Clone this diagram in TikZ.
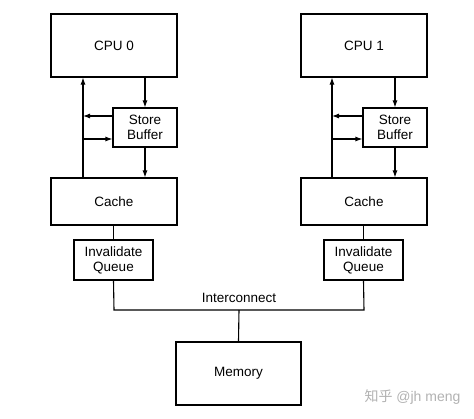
\documentclass[tikz,border=0pt]{standalone}
\usepackage{fontspec}
\setmainfont{Liberation Sans}
\newfontfamily\cjk{Noto Sans CJK SC}
\usetikzlibrary{arrows.meta}
\begin{document}
\begin{tikzpicture}[x=1pt,y=-1pt,
  box/.style={draw, line width=1.1pt, inner sep=0pt, font=\fontsize{13.5}{15}\selectfont, align=center},
  conn/.style={line width=1.1pt},
  arr/.style={line width=1.1pt, -{Latex[length=7pt,width=5pt]}}]
\useasboundingbox (0,0) rectangle (474,418);
\fill[white] (0,0) rectangle (474,418);
% left
\node[box, minimum width=126pt, minimum height=63pt] (cpu0) at (114,45.5) {CPU 0};
\node[box, minimum width=64pt, minimum height=39pt] (sb0) at (145,127.5) {Store\\Buffer};
\node[box, minimum width=126pt, minimum height=47pt] (c0) at (114,201.5) {Cache};
\node[box, minimum width=79pt, minimum height=40pt] (iq0) at (113.5,260) {Invalidate\\Queue};
% right
\node[box, minimum width=126pt, minimum height=63pt] (cpu1) at (364,45.5) {CPU 1};
\node[box, minimum width=64pt, minimum height=39pt] (sb1) at (395,127.5) {Store\\Buffer};
\node[box, minimum width=126pt, minimum height=47pt] (c1) at (364,201.5) {Cache};
\node[box, minimum width=79pt, minimum height=40pt] (iq1) at (363.5,260) {Invalidate\\Queue};
% memory
\node[box, minimum width=125pt, minimum height=63pt] (mem) at (238.5,373.5) {Memory};
\coordinate (j0) at (114,310);
\coordinate (j1) at (364,310);
\coordinate (jm) at (239,310);
\node[font=\fontsize{13.5}{15}\selectfont, anchor=south] (ic) at (239,306) {Interconnect};
% left connectors
\draw[arr] (cpu0.south -| sb0.center) -- (sb0.north);
\draw[arr] (sb0.south) -- (c0.north -| sb0.center);
\coordinate (v0) at (83,0);
\draw[arr] (c0.north -| v0) -- (cpu0.south -| v0);
\draw[arr] ([yshift=11.5pt]sb0.west) -- ([yshift=11.5pt]sb0.west -| v0);
\draw[arr] ([yshift=-11.5pt]sb0.west -| v0) -- ([yshift=-11.5pt]sb0.west);
% right connectors
\draw[arr] (cpu1.south -| sb1.center) -- (sb1.north);
\draw[arr] (sb1.south) -- (c1.north -| sb1.center);
\coordinate (v1) at (332,0);
\draw[arr] (c1.north -| v1) -- (cpu1.south -| v1);
\draw[arr] ([yshift=11.5pt]sb1.west) -- ([yshift=11.5pt]sb1.west -| v1);
\draw[arr] ([yshift=-11.5pt]sb1.west -| v1) -- ([yshift=-11.5pt]sb1.west);
% cache to IQ
\draw[conn] (c0.south -| iq0.north) -- (iq0.north);
\draw[conn] (c1.south -| iq1.north) -- (iq1.north);
% interconnect
\draw[conn] (iq0.south) -- (j0) -- (j1) -- (iq1.south);
\draw[conn] (jm) -- (mem.north);
% watermark
\node[anchor=west, text=black!30, font=\fontsize{14}{16}\selectfont] (wm) at (361,397) {{\cjk 知乎} @jh meng};
\end{tikzpicture}
\end{document}
